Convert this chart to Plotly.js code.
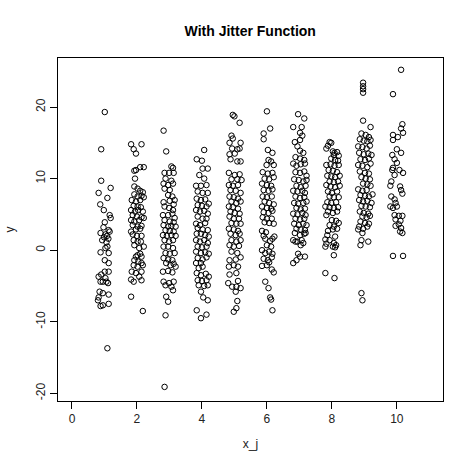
<!DOCTYPE html>
<html>
<head>
<meta charset="utf-8">
<script src="https://cdn.plot.ly/plotly-3.0.1.min.js"></script>
<style>html,body{margin:0;padding:0;background:#fff;}#chart{width:474px;height:474px;}</style>
</head>
<body>
<div id="chart"></div>
<script>
// Jittered x positions and y values, one pair of arrays per group
const g1x = [1.01,0.90,0.90,1.19,0.82,1.09,0.87,0.98,1.16,1.19,1.01,0.97,1.13,1.16,0.88,1.03,1.08,0.99,1.12,0.93,1.06,1.09,1.03,0.88,1.13,1.01,1.13,1.01,1.13,0.90,0.82,0.95,0.88,1.06,1.11,1.03,0.85,0.95,1.13,0.82,0.80,0.88,0.95,1.13,1.09];
const g1y = [19.3,14.1,9.7,8.7,8.0,7.3,6.4,5.6,4.9,4.5,3.9,3.2,2.8,2.6,2.4,2.2,2.0,1.8,1.6,1.4,1.1,0.5,0.3,-0.3,-0.4,-1.4,-1.8,-3.0,-3.0,-3.4,-3.7,-4.4,-4.4,-4.4,-4.6,-3.9,-5.8,-6.0,-6.2,-6.6,-7.0,-7.8,-7.7,-7.5,-13.7];

const g2x = [1.82,2.14,1.90,1.97,2.10,2.21,1.92,1.97,1.94,1.92,2.02,2.10,2.18,1.92,2.14,2.02,1.84,1.97,2.10,2.21,1.90,2.02,2.12,1.82,1.94,2.04,2.18,1.87,2.00,2.14,1.82,1.92,2.07,2.21,1.87,2.02,2.14,1.82,1.97,2.10,1.87,2.00,2.14,1.90,2.02,2.12,2.21,1.92,2.07,2.02,2.10,2.14,1.97,1.92,2.04,2.14,1.90,2.02,2.18,1.84,1.97,2.14,1.82,1.90,2.07,2.14,1.82,2.18];
const g2y = [14.8,14.8,14.1,13.5,11.6,11.6,11.1,11.2,10.0,8.9,8.6,8.3,8.1,7.8,7.6,7.5,7.0,6.8,7.0,7.4,6.2,6.1,6.0,5.6,5.4,5.6,5.4,4.9,4.7,4.6,4.2,4.0,4.2,4.5,3.5,3.3,3.4,2.6,2.9,3.0,2.2,2.0,2.0,1.4,1.2,1.2,0.5,0.7,0.3,-0.7,-0.5,-0.9,-0.9,-1.4,-1.6,-1.8,-2.1,-2.3,-2.1,-3.0,-3.2,-3.0,-4.1,-4.4,-3.7,-4.2,-6.5,-8.5];

const g3x = [2.82,2.90,3.06,3.11,2.85,2.99,3.13,2.88,3.06,2.82,2.96,3.11,2.85,3.01,2.96,3.09,3.16,2.82,3.01,3.13,2.85,2.99,3.11,2.80,2.96,3.09,3.16,2.85,3.01,3.13,2.82,2.96,3.06,3.19,2.88,3.01,3.13,2.80,2.92,3.06,3.19,2.85,2.99,3.11,2.82,2.96,3.11,2.88,3.01,3.16,2.82,2.96,3.09,2.90,3.03,3.13,3.19,2.80,2.96,3.09,2.82,2.99,3.13,2.88,3.06,3.11,2.90,2.96,2.88,2.85];
const g3y = [16.7,13.8,11.7,11.5,10.8,10.8,10.8,10.0,9.7,9.3,9.1,9.3,8.6,8.4,7.7,7.5,7.0,6.7,6.9,6.4,6.1,5.9,5.6,4.9,4.9,5.1,4.5,4.2,4.0,3.9,3.5,3.3,3.4,3.3,2.8,2.7,2.6,2.1,2.0,2.1,2.0,1.4,1.2,1.4,0.5,0.5,0.3,-0.4,-0.5,-0.4,-1.1,-1.3,-1.4,-1.8,-2.1,-1.9,-2.3,-3.0,-2.9,-3.1,-4.4,-4.6,-4.4,-4.9,-5.1,-5.6,-6.5,-7.2,-9.1,-19.1];

const g4x = [4.07,3.84,4.00,4.02,4.18,3.92,4.07,3.82,3.97,4.14,3.87,4.02,4.18,3.84,3.97,4.10,3.87,4.00,4.14,4.21,3.82,3.94,4.07,4.18,3.87,4.02,4.14,3.82,3.94,4.10,3.87,4.02,4.18,3.84,3.97,4.10,4.21,3.82,3.94,4.07,4.18,3.87,4.00,4.14,3.82,3.97,4.10,4.21,3.87,4.02,4.14,3.82,3.97,3.90,4.02,3.84,3.97,4.12,4.21,3.87,4.00,4.14,3.90,4.07,4.18,3.97,4.04,4.18,3.84,3.97,4.14];
const g4y = [14.0,12.7,12.5,11.4,11.4,10.5,10.0,9.0,9.0,9.1,8.2,8.0,8.0,7.2,7.0,7.1,6.3,6.2,6.1,6.5,5.6,5.4,5.5,5.1,4.7,4.4,4.4,3.7,3.5,3.8,3.1,2.9,2.8,2.3,2.3,2.1,1.9,1.4,1.2,1.4,1.0,0.5,0.4,0.5,-0.2,-0.4,-0.3,-0.5,-1.1,-1.3,-1.0,-1.8,-1.8,-2.5,-2.3,-3.2,-3.5,-3.3,-3.7,-4.2,-4.3,-4.2,-4.9,-5.0,-4.9,-5.8,-6.6,-7.0,-8.4,-9.5,-9.0];

const g5x = [4.95,5.00,5.16,4.91,4.95,4.85,5.19,4.93,5.09,5.16,4.85,5.01,4.88,5.09,5.19,4.83,5.01,5.16,4.91,5.09,5.22,4.83,4.95,5.11,4.88,5.04,5.19,4.85,4.98,5.11,4.91,5.06,5.19,4.83,4.95,5.11,4.88,5.01,5.16,4.85,4.98,5.14,4.91,5.06,5.19,4.83,4.98,5.11,4.88,5.04,5.16,4.91,5.06,5.19,4.85,4.98,5.14,4.91,5.09,4.85,5.04,5.19,4.83,4.98,5.11,4.85,5.06,4.81,4.93,5.06,5.11,5.04,5.19,5.09,5.06,4.98];
const g5y = [18.9,18.7,17.8,16.0,15.6,15.0,15.0,14.2,14.1,14.2,13.4,13.5,12.7,12.4,12.4,10.8,10.5,10.6,9.9,9.9,9.8,9.1,9.0,9.1,8.4,8.3,8.0,7.5,7.4,7.2,6.8,6.6,6.8,6.1,6.0,5.8,5.4,5.2,5.1,4.7,4.4,4.4,3.8,3.7,3.7,3.0,2.9,2.7,2.3,2.1,2.3,1.4,1.2,1.4,0.7,0.5,0.6,-0.2,-0.4,-1.4,-1.3,-1.0,-2.3,-2.1,-2.3,-3.4,-3.2,-4.6,-5.1,-5.1,-4.3,-5.8,-5.3,-7.1,-8.1,-8.6];

const g6x = [6.00,6.10,5.90,5.90,6.03,6.17,6.05,6.13,5.99,6.21,5.87,6.03,6.17,5.93,6.07,6.21,5.85,6.00,6.13,5.90,6.05,6.17,5.87,6.00,6.15,5.93,6.07,6.21,5.85,6.00,6.13,5.90,6.05,6.17,5.87,6.00,6.15,5.93,6.07,6.21,5.85,5.97,5.90,5.95,6.17,6.23,6.10,6.00,6.13,6.07,5.85,5.95,6.17,5.90,6.03,6.15,5.85,6.00,6.07,6.15,6.21,5.95,6.05,6.10,6.13,6.17];
const g6y = [19.4,17.0,16.3,15.5,14.0,13.6,12.6,12.4,11.9,11.9,10.9,10.7,10.8,10.0,9.9,10.2,9.3,9.1,9.0,8.4,8.3,8.5,7.5,7.4,7.5,6.8,6.6,6.4,6.1,5.9,5.8,5.3,5.2,5.5,4.6,4.4,4.4,3.9,3.8,3.7,2.7,2.5,2.0,1.6,1.6,1.9,1.3,0.7,0.5,-0.2,0.0,-0.4,-0.5,-1.2,-1.4,-1.0,-2.2,-2.1,-1.7,-2.7,-3.1,-4.4,-5.3,-6.6,-6.9,-8.4];

const g7x = [6.96,7.15,6.81,7.07,7.02,7.09,7.02,6.86,6.94,7.02,7.12,6.88,7.02,7.15,6.81,6.91,7.04,7.17,6.88,7.02,7.15,7.22,6.84,6.98,7.12,7.22,6.91,7.04,7.19,6.81,6.94,7.09,7.17,6.88,7.02,7.15,6.84,6.96,7.12,7.22,6.91,7.04,7.17,6.81,6.94,7.09,7.19,6.88,7.02,7.15,6.84,6.98,7.12,7.22,6.91,7.04,7.17,6.86,7.02,7.15,7.19,6.81,6.94,7.07,6.88,7.12,7.04,6.96,7.02,7.17,6.91,6.81];
const g7y = [19.0,18.4,17.2,17.2,16.4,16.0,15.4,15.1,14.5,13.9,13.6,13.0,12.8,12.6,12.1,11.8,12.0,12.1,10.9,10.8,11.0,10.4,9.9,9.8,9.6,9.8,9.0,8.8,9.0,8.3,8.2,8.3,8.0,7.5,7.3,7.4,6.6,6.5,6.6,6.8,5.9,5.7,5.8,5.1,5.0,5.2,4.9,4.4,4.3,4.4,3.7,3.5,3.7,3.5,3.0,2.9,2.8,2.4,2.1,2.3,2.4,1.4,1.2,1.4,1.2,1.0,0.7,-0.5,-0.9,-0.9,-1.4,-1.8];

const g8x = [7.93,7.98,7.88,7.83,8.03,8.08,8.16,8.06,8.21,7.98,8.10,8.19,7.83,7.96,8.08,8.21,7.90,8.03,8.16,7.86,7.98,8.10,8.24,7.93,8.06,8.19,7.83,7.96,8.10,8.24,7.88,8.00,8.16,7.93,8.06,8.21,7.86,7.98,8.13,7.80,7.93,8.06,8.19,7.88,8.03,8.16,7.83,8.00,8.13,8.21,7.93,8.06,7.88,8.03,8.16,7.86,8.10,7.80,7.93,7.83,8.06,8.13,7.80,8.03,8.10,8.06,7.80,8.08];
const g8y = [15.1,15.0,14.6,14.2,13.8,13.6,13.7,13.3,13.2,12.8,12.6,12.5,11.9,12.0,11.8,11.9,11.2,11.1,10.9,10.4,10.3,10.2,10.4,9.6,9.5,9.6,9.1,8.9,8.8,9.0,8.2,8.0,8.2,7.5,7.4,7.4,6.7,6.6,6.7,6.1,6.0,5.9,6.0,5.4,5.2,5.4,4.9,4.2,4.1,3.8,3.5,3.3,2.7,2.9,3.0,2.1,1.9,1.5,1.4,0.9,1.0,0.7,0.5,0.5,0.4,-0.7,-3.2,-3.9];

const g9x = [8.96,8.96,8.96,8.96,8.96,9.19,8.91,9.04,9.14,8.86,8.98,9.09,9.19,8.81,8.94,9.07,9.17,8.84,8.98,9.12,9.22,8.88,9.02,9.14,8.81,8.94,9.09,9.19,8.86,9.02,9.14,8.91,9.04,9.17,8.96,9.09,9.19,8.81,8.94,9.07,8.88,9.02,9.14,9.25,8.84,8.96,9.09,9.22,8.91,9.04,9.17,8.86,8.98,9.12,8.94,9.07,9.17,8.88,9.02,9.14,8.84,8.96,9.09,8.81,8.94,8.91,9.12,8.88,8.91,8.94];
const g9y = [23.4,22.9,22.5,22.0,18.1,17.2,16.3,16.1,15.8,15.5,15.3,15.2,15.4,14.5,14.4,14.2,14.6,13.6,13.4,13.5,13.3,12.7,12.6,12.8,11.9,11.8,11.6,12.1,11.0,10.8,10.7,10.2,10.0,9.9,9.3,9.2,9.0,8.5,8.3,8.4,7.7,7.6,7.5,7.8,7.0,6.8,6.9,6.6,6.2,6.1,6.0,5.4,5.2,5.1,4.7,4.6,4.8,4.0,3.8,3.7,3.3,3.0,3.3,2.9,2.4,1.4,1.2,0.7,-6.0,-7.0];

const g10x = [10.13,9.88,10.17,10.13,10.19,9.88,10.03,9.88,10.00,10.13,9.86,9.93,10.00,9.88,9.86,9.93,10.08,10.19,9.83,9.80,10.10,10.13,10.17,9.83,9.93,9.96,9.80,9.88,10.00,9.93,10.06,10.17,9.96,10.11,10.06,9.96,10.13,10.10,10.17,9.88,10.19];
const g10y = [25.2,21.8,17.6,17.0,16.4,16.1,15.8,15.4,14.1,13.6,13.3,12.7,12.2,11.5,11.2,10.5,11.2,10.8,9.6,9.0,8.9,8.4,7.9,7.5,7.1,6.6,6.1,5.9,6.1,4.9,4.8,4.8,4.3,4.1,3.6,3.4,3.1,2.6,2.4,-0.8,-0.8];

const xTickVals = [0, 2, 4, 6, 8, 10];
const yTickVals = [-20, -10, 0, 10, 20];

const xs = [g1x,g2x,g3x,g4x,g5x,g6x,g7x,g8x,g9x,g10x];
const ys = [g1y,g2y,g3y,g4y,g5y,g6y,g7y,g8y,g9y,g10y];
const allX = [].concat(...xs);
const allY = [].concat(...ys);

const FONT = 'Liberation Sans, Arial, sans-serif';

const trace = {
  x: allX, y: allY, type: 'scatter', mode: 'markers',
  marker: {symbol: 'circle-open', size: 5.5, color: '#000', line: {width: 1, color: '#000'}},
  hoverinfo: 'x+y', showlegend: false
};

const layout = {
  width: 474, height: 474,
  margin: {l: 58, r: 31, t: 58, b: 73},
  paper_bgcolor: '#fff', plot_bgcolor: '#fff',
  font: {family: FONT, size: 12, color: '#000'},
  title: {text: '<b>With Jitter Function</b>', font: {family: FONT, size: 14, color: '#000'},
          x: 0.528, xanchor: 'center', y: 0.934, yref: 'container', yanchor: 'middle'},
  xaxis: {
    range: [-0.43, 11.42], tickvals: xTickVals, ticktext: xTickVals.map(String),
    ticks: 'outside', ticklen: 7, tickwidth: 1, tickcolor: '#000',
    showline: true, mirror: true, linecolor: '#000', linewidth: 1,
    showgrid: false, zeroline: false, automargin: false,
    tickfont: {family: FONT, size: 12, color: '#222'},
    title: {text: 'x_j', font: {family: FONT, size: 12, color: '#222'}, standoff: 14}
  },
  yaxis: {
    range: [-21.07, 26.85], tickvals: yTickVals, ticktext: yTickVals.map(String),
    ticks: 'outside', ticklen: 7, tickwidth: 1, tickcolor: '#000', tickangle: -90,
    showline: true, mirror: true, linecolor: '#000', linewidth: 1,
    showgrid: false, zeroline: false, automargin: false,
    tickfont: {family: FONT, size: 12, color: '#222'},
    title: {text: 'y', font: {family: FONT, size: 12, color: '#222'}, standoff: 17}
  }
};

Plotly.newPlot('chart', [trace], layout, {displayModeBar: false, staticPlot: true});
</script>
</body>
</html>
